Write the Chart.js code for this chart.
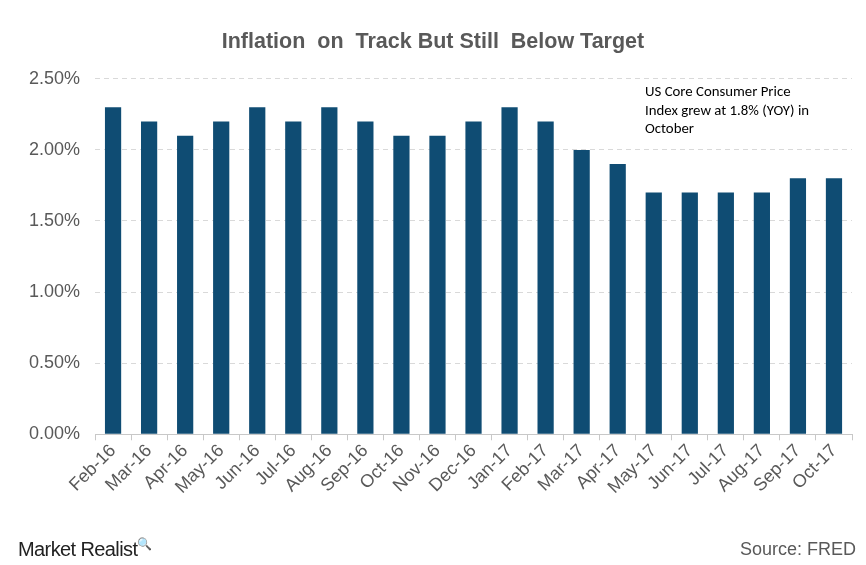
<!DOCTYPE html>
<html><head><meta charset="utf-8">
<script src="https://cdn.jsdelivr.net/npm/chart.js@4"></script>
<style>
html,body{margin:0;padding:0;background:#fff;}
#wrap{position:relative;width:866px;height:565px;}
#note{position:absolute;left:645px;top:82px;font-family:Carlito,"Liberation Sans",Arial,sans-serif;font-size:14.8px;line-height:18.5px;color:#000;width:220px;}
#logo{position:absolute;left:18px;top:537px;font-family:"Liberation Sans Narrow","Liberation Sans",Arial,sans-serif;font-size:20px;color:#222;letter-spacing:-0.6px;}
#src{position:absolute;right:10px;top:539px;font-family:"Liberation Sans",Arial,sans-serif;font-size:18px;color:#595959;}
</style></head>
<body><div id="wrap"><canvas id="c" width="866" height="565"></canvas>
<div id="note">US Core Consumer Price<br>Index grew at 1.8% (YOY) in<br>October</div>
<div id="logo">Market Realist<sup style="font-size:12px">&#x1F50D;</sup></div>
<div id="src">Source: FRED</div>
</div>
<script>
const categories = ["Feb-16","Mar-16","Apr-16","May-16","Jun-16","Jul-16","Aug-16","Sep-16","Oct-16","Nov-16","Dec-16","Jan-17","Feb-17","Mar-17","Apr-17","May-17","Jun-17","Jul-17","Aug-17","Sep-17","Oct-17"];
const cpiValues = [2.3,2.2,2.1,2.2,2.3,2.2,2.3,2.2,2.1,2.1,2.2,2.3,2.2,2.0,1.9,1.7,1.7,1.7,1.7,1.8,1.8];
const yTicks = [0,0.5,1.0,1.5,2.0,2.5];
const titleText = "Inflation  on  Track But Still  Below Target";

new Chart(document.getElementById('c'), {
  type: 'bar',
  data: { labels: categories, datasets: [{ data: cpiValues, backgroundColor: '#0f4c73', barPercentage: 0.45, categoryPercentage: 1.0 }] },
  options: {
    responsive: false, animation: false,
    layout: { padding: { left: 14, right: 14, top: 0, bottom: 67 } },
    plugins: {
      legend: { display: false }, tooltip: { enabled: false },
      title: { display: true, text: titleText, color: '#595959', font: { family: '"Liberation Sans", Arial', size: 21.5, weight: 'bold' }, padding: { top: 29, bottom: 24 } }
    },
    scales: {
      x: {
        grid: { display: true, offset: true, drawOnChartArea: false, color: '#c8c8c8', tickLength: 6 },
        border: { display: true, color: '#c8c8c8' },
        ticks: { color: '#595959', font: { family: '"Liberation Sans", Arial', size: 18 }, maxRotation: 45, minRotation: 45, autoSkip: false, padding: 0 }
      },
      y: {
        min: 0, max: 2.5,
        afterBuildTicks: (s) => { s.ticks = yTicks.map(v => ({ value: v })); },
        grid: { color: '#d9d9d9', drawTicks: false },
        border: { display: false, dash: [5, 4] },
        ticks: { color: '#595959', font: { family: '"Liberation Sans", Arial', size: 18 }, padding: 15, callback: v => v.toFixed(2) + '%' }
      }
    }
  }
});
</script></body></html>
